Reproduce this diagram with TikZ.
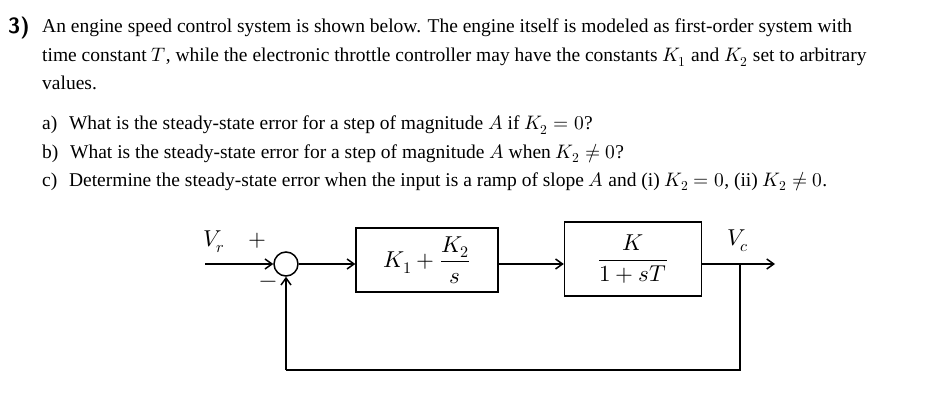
\documentclass[tikz,border=0pt]{standalone}
\usepackage{amsmath}
\usepackage{unicode-math}
\setmainfont{Liberation Serif}
\setmathfont{Latin Modern Math}
\usetikzlibrary{arrows.meta}
\begin{document}
\begin{tikzpicture}[x=1pt,y=-1pt,
  txt/.style={anchor=base west,inner sep=0pt,font=\fontsize{19.5}{22}\selectfont},
  blk/.style={draw,line width=1.4pt,inner sep=0pt},
  dtx/.style={font=\fontsize{23}{26}\selectfont},
  sig/.style={line width=1.5pt,-{Straight Barb[length=7pt,width=10pt]}},
  wire/.style={line width=1.5pt}]
\useasboundingbox (0,0) rectangle (926,417);
\node[txt,font=\fontsize{22}{24}\bfseries\sffamily] (num) at (8,34) {3)};
\node[txt] (l1) at (42,33) {An engine speed control system is shown below. The engine itself is modeled as first-order system with};
\node[txt] (l2) at (42,62) {time constant $T$, while the electronic throttle controller may have the constants $K_1$ and $K_2$ set to arbitrary};
\node[txt] (l3) at (42,90) {values.};
\node[txt] (a) at (42,130) {a)\hspace{0.6em}What is the steady-state error for a step of magnitude $A$ if $K_2=0$?};
\node[txt] (b) at (42,158) {b)\hspace{0.6em}What is the steady-state error for a step of magnitude $A$ when $K_2\neq 0$?};
\node[txt] (c) at (42,186) {c)\hspace{0.6em}Determine the steady-state error when the input is a ramp of slope $A$ and (i) $K_2=0$, (ii) $K_2\neq 0$.};
% diagram
\node[draw,circle,line width=1.5pt,minimum size=24pt,inner sep=0pt] (sum) at (286,264) {};
\node[blk,minimum width=142pt,minimum height=64pt] (g1) at (427,260) {\fontsize{23}{26}\selectfont$K_1+\dfrac{K_2}{s}$};
\node[blk,minimum width=137pt,minimum height=74pt] (g2) at (633,259) {\fontsize{23}{26}\selectfont$\dfrac{K}{1+sT}$};
\coordinate (in) at (205,264);
\coordinate (out) at (775,264);
\coordinate (tap) at (740,264);
\coordinate (fb1) at (740,370);
\coordinate (fb2) at (286,370);
\draw[sig] (in) -- (sum.west);
\draw[sig] (sum.east) -- (g1.west |- sum.east);
\draw[sig] (g1.east |- sum.east) -- (g2.west |- sum.east);
\draw[sig] (g2.east |- sum.east) -- (out);
\draw[wire] (tap) -- (fb1) -- (fb2);
\draw[sig] (fb2) -- (sum.south);
\node[dtx] (vr) at (214,242) {$V_r$};
\node[dtx] (plus) at (257,241) {$+$};
\node[dtx] (minus) at (268,284) {$-$};
\node[dtx] (vc) at (738,241) {$V_c$};
\end{tikzpicture}
\end{document}
